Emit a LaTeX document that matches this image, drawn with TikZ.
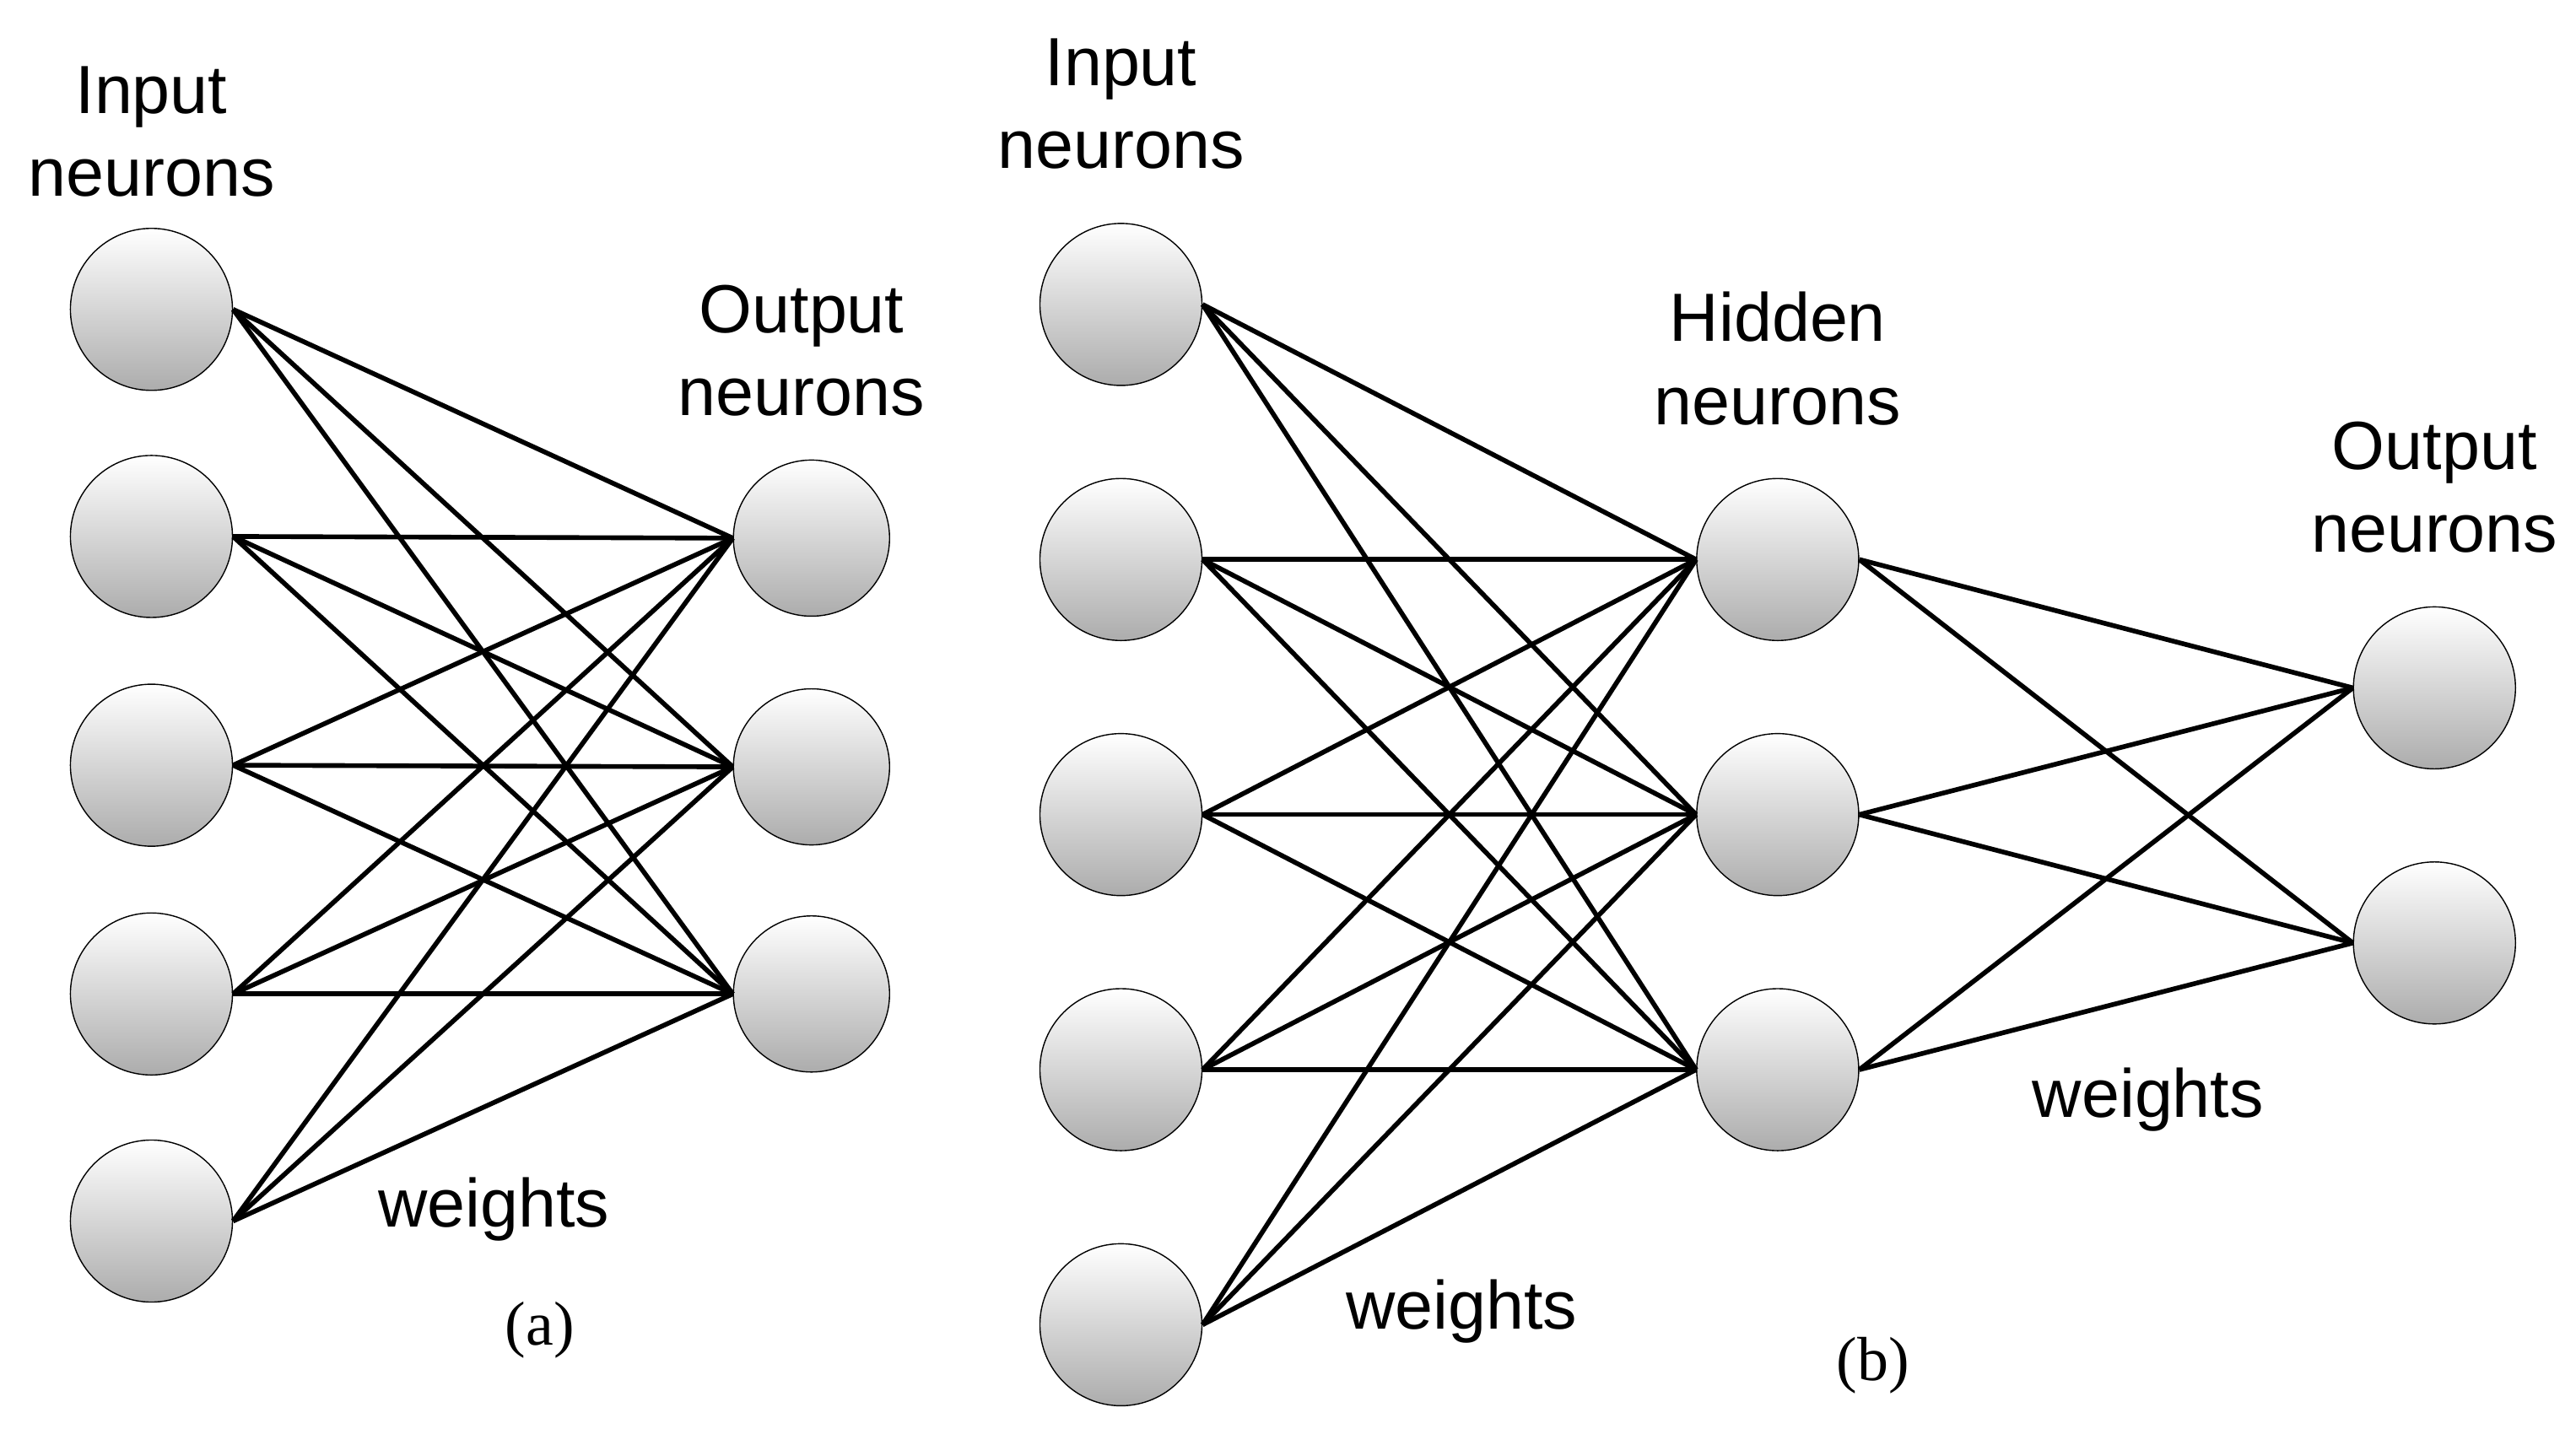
\documentclass[tikz,border=0pt]{standalone}
\usepackage{fontspec}
\setmainfont{Liberation Sans}
\newfontfamily\capfont{Liberation Serif}
\usetikzlibrary{positioning}
\begin{document}
\begin{tikzpicture}[x=0.0195cm, y=-0.0195cm,
  neuron/.style={circle, draw=black, thin, minimum size=1.92cm, inner sep=0pt,
    top color=white, bottom color=gray!65},
  lbl/.style={align=center, font=\fontsize{23}{28}\selectfont},
  sublbl/.style={font=\fontsize{21}{24}\capfont},
  wire/.style={line width=1.6pt}]

\useasboundingbox (0,0) rectangle (1565,868);

% (a) single layer
\foreach \i/\y in {1/188,2/326,3/465,4/604,5/742}
  \node[neuron] (ai\i) at (92,\y) {};
\foreach \j/\y in {1/327,2/466,3/604}
  \node[neuron, minimum size=1.85cm] (ao\j) at (493,\y) {};
\foreach \i in {1,...,5}
  \foreach \j in {1,2,3}
    \draw[wire] (ai\i.east) -- (ao\j.west);

\node[lbl] (ailbl) at (92,80) {Input\\neurons};
\node[lbl] (aolbl) at (487,213) {Output\\neurons};
\node[lbl] (aw) at (300,735) {weights};
\node[sublbl] (acap) at (328,808) {(a)};

% (b) with hidden layer
\foreach \i/\y in {1/185,2/340,3/495,4/650,5/805}
  \node[neuron] (bi\i) at (681,\y) {};
\foreach \j/\y in {1/340,2/495,3/650}
  \node[neuron] (bh\j) at (1080,\y) {};
\foreach \k/\y in {1/418,2/573}
  \node[neuron] (bo\k) at (1479,\y) {};
\foreach \i in {1,...,5}
  \foreach \j in {1,2,3}
    \draw[wire] (bi\i.east) -- (bh\j.west);
\foreach \j in {1,2,3}
  \foreach \k in {1,2}
    \draw[wire] (bh\j.east) -- (bo\k.west);

\node[lbl] (bilbl) at (681,63) {Input\\neurons};
\node[lbl] (bhlbl) at (1080,218) {Hidden\\neurons};
\node[lbl] (bolbl) at (1479,296) {Output\\neurons};
\node[lbl] (bw1) at (888,797) {weights};
\node[lbl] (bw2) at (1305,668) {weights};
\node[sublbl] (bcap) at (1138,830) {(b)};

\end{tikzpicture}
\end{document}
